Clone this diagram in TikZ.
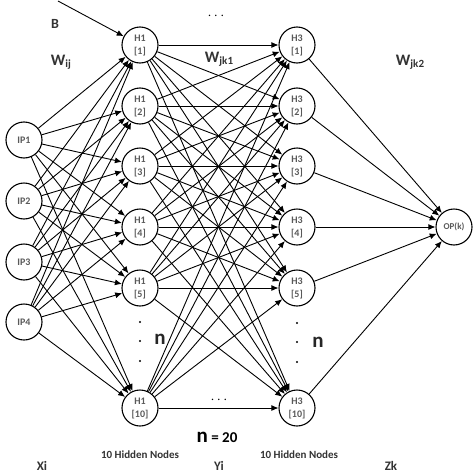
\documentclass[tikz,border=0pt]{standalone}
\usepackage{fontspec}
\setmainfont{Carlito}[BoldFont={Carlito Bold}]
\usetikzlibrary{arrows.meta}
\begin{document}
\begin{tikzpicture}[x=1pt,y=-1pt,
  neuron/.style={circle,draw,line width=1.1pt,minimum size=36pt,inner sep=0pt,align=center,
    font=\bfseries\fontsize{10}{13}\selectfont,text=black!65},
  conn/.style={line width=0.9pt,-{Latex[length=7pt,width=6pt]}},
  lbl/.style={font=\bfseries\fontsize{16}{16}\selectfont,text=black!80,inner sep=0pt},
  big/.style={font=\bfseries\fontsize{21}{21}\selectfont,text=black!85,inner sep=0pt},
  dots/.style={font=\bfseries\fontsize{14}{14}\selectfont,inner sep=0pt},
  small/.style={font=\bfseries\fontsize{11}{11}\selectfont,text=black!80,inner sep=0pt}]
\useasboundingbox (0,0) rectangle (474,474);
% input layer
\node[neuron] (ip1) at (24,140) {IP1};
\node[neuron] (ip2) at (24,201) {IP2};
\node[neuron] (ip3) at (24,262) {IP3};
\node[neuron] (ip4) at (24,322) {IP4};
% hidden layer 1
\node[neuron] (ha1) at (140,45) {H1\\{[1]}};
\node[neuron] (ha2) at (140,106) {H1\\{[2]}};
\node[neuron] (ha3) at (140,166) {H1\\{[3]}};
\node[neuron] (ha4) at (140,227) {H1\\{[4]}};
\node[neuron] (ha5) at (140,288) {H1\\{[5]}};
\node[neuron] (ha10) at (140,408) {H1\\{[10]}};
% hidden layer 3
\node[neuron] (hb1) at (297,45) {H3\\{[1]}};
\node[neuron] (hb2) at (297,106) {H3\\{[2]}};
\node[neuron] (hb3) at (297,166) {H3\\{[3]}};
\node[neuron] (hb4) at (297,227) {H3\\{[4]}};
\node[neuron] (hb5) at (297,288) {H3\\{[5]}};
\node[neuron] (hb10) at (297,408) {H3\\{[10]}};
% output
\node[neuron,font=\bfseries\fontsize{9}{11}\selectfont] (op) at (454,227) {OP(k)};
% connections
\foreach \i in {1,2,3,4}
  \foreach \j in {1,2,3,4,5,10}
    \draw[conn] (ip\i) -- (ha\j);
\foreach \i in {1,2,3,4,5,10}
  \foreach \j in {1,2,3,4,5,10}
    \draw[conn] (ha\i) -- (hb\j);
\foreach \j in {1,2,3,4,5,10}
  \draw[conn] (hb\j) -- (op);
% bias
\coordinate (bstart) at (58,1);
\draw[conn] (bstart) -- (ha1);
\node[lbl,font=\bfseries\fontsize{14}{14}\selectfont] (blbl) at (55,24) {B};
% weight labels
\node[lbl] (wij) at (61,62) {W\raisebox{-2pt}{\fontsize{11}{11}\selectfont ij}};
\node[lbl] (wjk1) at (219,59) {W\raisebox{-2pt}{\fontsize{11}{11}\selectfont jk1}};
\node[lbl] (wjk2) at (410,62) {W\raisebox{-2pt}{\fontsize{11}{11}\selectfont jk2}};
% ellipses
\node[dots] (tdots) at (216,16) {$\cdots$};
\node[dots] (bdots) at (219,400) {$\cdots$};
\foreach \y in {322,341,361} \fill (140,\y) circle (1.1pt);
\foreach \y in {323,342,362} \fill (297,\y) circle (1.1pt);
\node[big] (na) at (160,339) {n};
\node[big] (nb) at (318,342) {n};
\node[inner sep=0pt] (n20) at (217,437) {{\bfseries\fontsize{21}{21}\selectfont n}{\bfseries\fontsize{15}{15}\selectfont\ =\ 20}};
% bottom labels
\node[small] (hna) at (140,455) {10 Hidden Nodes};
\node[small] (hnb) at (299,455) {10 Hidden Nodes};
\node[lbl,anchor=base,font=\bfseries\fontsize{13}{13}\selectfont] (xi) at (42,470) {Xi};
\node[lbl,anchor=base,font=\bfseries\fontsize{13}{13}\selectfont] (yi) at (219,470) {Yi};
\node[lbl,anchor=base,font=\bfseries\fontsize{13}{13}\selectfont] (zk) at (391,470) {Zk};
\end{tikzpicture}
\end{document}
